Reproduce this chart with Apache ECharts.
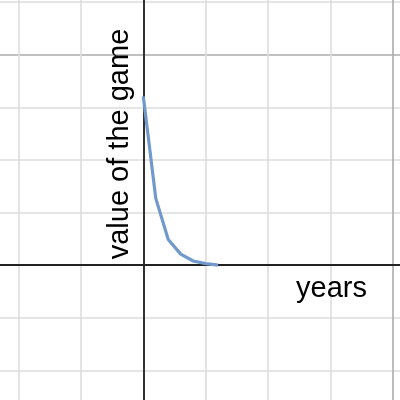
<!DOCTYPE html>
<html>
<head>
<meta charset="utf-8">
<script src="https://cdn.jsdelivr.net/npm/echarts@6/dist/echarts.min.js"></script>
<style>html,body{margin:0;padding:0;background:#fff}#c{width:400px;height:400px}</style>
</head>
<body>
<div id="c"></div>
<script>
// Data
const xValues = [0, 0.2, 0.4, 0.6, 0.8, 1.0, 1.2];
const yValues = [3.21, 1.27, 0.49, 0.21, 0.08, 0.03, 0.0];
const xAxisTitle = 'years';
const yAxisTitle = 'value of the game';

const chart = echarts.init(document.getElementById('c'), null, {renderer: 'canvas'});

// pixel geometry of the plot (origin at 143.3, 265.2; 62.35 px per x unit; 52.6 px per y unit)
const ox = 143.3, oy = 265.2, sx = 62.35, sy = 52.6;
const xMin = -4, xMax = 8, yMin = -4, yMax = 8;

const axisCommon = {
  type: 'value',
  interval: 4,
  axisLine: {show: true, onZero: true, lineStyle: {color: '#222222', width: 1.8}},
  axisTick: {show: false},
  axisLabel: {show: false},
  splitLine: {show: true, lineStyle: {color: '#ababab', width: 1.6}},
  minorTick: {show: false, splitNumber: 4},
  minorSplitLine: {show: true, lineStyle: {color: '#dcdcdc', width: 1.6}}
};

chart.setOption({
  animation: false,
  backgroundColor: '#ffffff',
  grid: {
    left: ox + xMin * sx,
    top: oy - yMax * sy,
    width: (xMax - xMin) * sx,
    height: (yMax - yMin) * sy,
    containLabel: false,
    outerBoundsMode: 'none'
  },
  xAxis: Object.assign({}, axisCommon, {min: xMin, max: xMax}),
  yAxis: Object.assign({}, axisCommon, {min: yMin, max: yMax}),
  series: [{
    type: 'line',
    data: xValues.map((x, i) => [x, yValues[i]]),
    showSymbol: false,
    smooth: false,
    clip: false,
    lineStyle: {color: '#7199cb', width: 3.2},
    z: 5
  }],
  graphic: [
    {
      type: 'text',
      x: 296, y: 289,
      style: {text: xAxisTitle, font: '29px "Liberation Sans", Arial, sans-serif', fill: '#000', align: 'left', verticalAlign: 'middle'},
      z: 10
    },
    {
      type: 'text',
      x: 120, y: 144,
      rotation: Math.PI / 2,
      style: {text: yAxisTitle, font: '29px "Liberation Sans", Arial, sans-serif', fill: '#000', align: 'center', verticalAlign: 'middle'},
      z: 10
    }
  ]
});
</script>
</body>
</html>
